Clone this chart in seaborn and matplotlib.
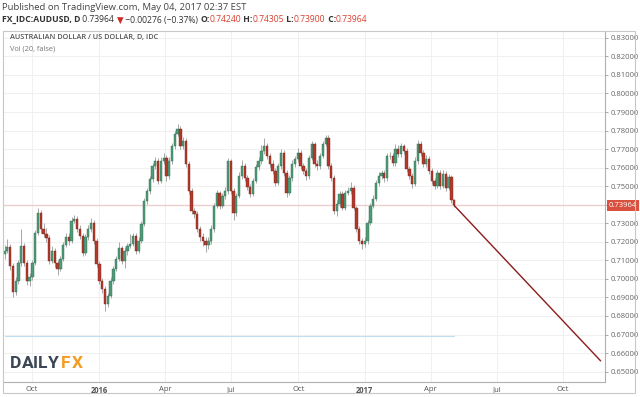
import numpy as np
import pandas as pd
import seaborn as sns
import matplotlib.pyplot as plt
from matplotlib.patches import Rectangle

start_date = "2015-08-25"
last_date = "2017-05-04"
first_open = 0.7135

closes = [
    0.7152, 0.7173, 0.7071, 0.6931, 0.6990, 0.7087, 0.7179, 0.7087, 0.6990, 0.7012,
    0.7087, 0.7249, 0.7357, 0.7271, 0.7244, 0.7222, 0.7098, 0.7152, 0.7087, 0.7055,
    0.7109, 0.7184, 0.7227, 0.7206, 0.7314, 0.7324, 0.7271, 0.7233, 0.7141, 0.7227,
    0.7271, 0.7303, 0.7206, 0.7082, 0.6990, 0.6947, 0.6866, 0.6909, 0.6990, 0.7055,
    0.7109, 0.7168, 0.7098, 0.7152, 0.7179, 0.7190, 0.7233, 0.7152, 0.7206, 0.7297,
    0.7421, 0.7475, 0.7540, 0.7610, 0.7637, 0.7529, 0.7637, 0.7653, 0.7556, 0.7637,
    0.7718, 0.7783, 0.7810, 0.7718, 0.7745, 0.7621, 0.7475, 0.7367, 0.7351, 0.7271,
    0.7227, 0.7206, 0.7184, 0.7206, 0.7271, 0.7394, 0.7465, 0.7394, 0.7448, 0.7475,
    0.7637, 0.7475, 0.7357, 0.7448, 0.7556, 0.7610, 0.7545, 0.7497, 0.7459, 0.7529,
    0.7605, 0.7637, 0.7691, 0.7718, 0.7664, 0.7621, 0.7583, 0.7518, 0.7610, 0.7680,
    0.7572, 0.7465, 0.7545, 0.7621, 0.7648, 0.7680, 0.7610, 0.7583, 0.7556, 0.7653,
    0.7729, 0.7621, 0.7610, 0.7664, 0.7729, 0.7761, 0.7610, 0.7545, 0.7367, 0.7405,
    0.7459, 0.7384, 0.7465, 0.7475, 0.7491, 0.7384, 0.7271, 0.7206, 0.7190, 0.7206,
    0.7303, 0.7394, 0.7432, 0.7518, 0.7556, 0.7572, 0.7545, 0.7664, 0.7664, 0.7626,
    0.7702, 0.7675, 0.7718, 0.7691, 0.7594, 0.7556, 0.7513, 0.7637, 0.7729, 0.7680,
    0.7621, 0.7648, 0.7583, 0.7529, 0.7502, 0.7572, 0.7502, 0.7567, 0.7491, 0.7550,
    0.7424, 0.73964,
]
highs = [
    0.7185, 0.7215, 0.7190, 0.7085, 0.7010, 0.7100, 0.7270, 0.7195, 0.7100, 0.7030,
    0.7100, 0.7265, 0.7385, 0.7370, 0.7300, 0.7275, 0.7235, 0.7175, 0.7165, 0.7100,
    0.7125, 0.7200, 0.7245, 0.7250, 0.7335, 0.7345, 0.7340, 0.7290, 0.7245, 0.7240,
    0.7290, 0.7330, 0.7315, 0.7220, 0.7095, 0.7005, 0.6960, 0.6925, 0.7010, 0.7070,
    0.7125, 0.7200, 0.7180, 0.7170, 0.7195, 0.7240, 0.7250, 0.7245, 0.7225, 0.7310,
    0.7435, 0.7490, 0.7555, 0.7625, 0.7660, 0.7650, 0.7655, 0.7680, 0.7670, 0.7655,
    0.7735, 0.7800, 0.7835, 0.7825, 0.7765, 0.7760, 0.7635, 0.7490, 0.7385, 0.7365,
    0.7285, 0.7245, 0.7225, 0.7225, 0.7290, 0.7410, 0.7480, 0.7475, 0.7465, 0.7495,
    0.7650, 0.7645, 0.7490, 0.7465, 0.7575, 0.7640, 0.7625, 0.7560, 0.7510, 0.7545,
    0.7620, 0.7655, 0.7720, 0.7758, 0.7735, 0.7680, 0.7640, 0.7600, 0.7625, 0.7700,
    0.7695, 0.7585, 0.7560, 0.7640, 0.7665, 0.7705, 0.7695, 0.7625, 0.7600, 0.7670,
    0.7745, 0.7740, 0.7640, 0.7680, 0.7745, 0.7778, 0.7775, 0.7625, 0.7560, 0.7425,
    0.7475, 0.7475, 0.7480, 0.7495, 0.7520, 0.7505, 0.7395, 0.7285, 0.7220, 0.7225,
    0.7320, 0.7410, 0.7450, 0.7535, 0.7575, 0.7590, 0.7590, 0.7680, 0.7685, 0.7680,
    0.7725, 0.7720, 0.7735, 0.7730, 0.7705, 0.7610, 0.7570, 0.7655, 0.7750, 0.7745,
    0.7695, 0.7670, 0.7665, 0.7600, 0.7545, 0.7590, 0.7585, 0.7585, 0.7580, 0.7565,
    0.7560, 0.74305,
]
lows = [
    0.7110, 0.7140, 0.7050, 0.6905, 0.6915, 0.6975, 0.7070, 0.7070, 0.6965, 0.6960,
    0.6995, 0.7075, 0.7235, 0.7250, 0.7225, 0.7200, 0.7080, 0.7085, 0.7065, 0.7020,
    0.7040, 0.7095, 0.7170, 0.7185, 0.7195, 0.7300, 0.7255, 0.7215, 0.7125, 0.7130,
    0.7210, 0.7255, 0.7190, 0.7065, 0.6970, 0.6925, 0.6827, 0.6850, 0.6895, 0.6975,
    0.7040, 0.7095, 0.7080, 0.7060, 0.7130, 0.7165, 0.7175, 0.7135, 0.7140, 0.7195,
    0.7285, 0.7405, 0.7460, 0.7525, 0.7595, 0.7510, 0.7515, 0.7620, 0.7530, 0.7540,
    0.7620, 0.7700, 0.7770, 0.7700, 0.7700, 0.7605, 0.7460, 0.7350, 0.7330, 0.7255,
    0.7205, 0.7180, 0.7146, 0.7160, 0.7190, 0.7255, 0.7380, 0.7375, 0.7380, 0.7430,
    0.7460, 0.7460, 0.7320, 0.7340, 0.7435, 0.7540, 0.7530, 0.7480, 0.7440, 0.7445,
    0.7515, 0.7590, 0.7620, 0.7675, 0.7645, 0.7605, 0.7565, 0.7500, 0.7505, 0.7595,
    0.7555, 0.7440, 0.7450, 0.7530, 0.7605, 0.7630, 0.7595, 0.7565, 0.7535, 0.7540,
    0.7640, 0.7605, 0.7590, 0.7595, 0.7650, 0.7715, 0.7595, 0.7530, 0.7350, 0.7340,
    0.7390, 0.7370, 0.7370, 0.7450, 0.7460, 0.7370, 0.7255, 0.7190, 0.7160, 0.7170,
    0.7190, 0.7290, 0.7380, 0.7420, 0.7500, 0.7540, 0.7525, 0.7530, 0.7645, 0.7610,
    0.7610, 0.7660, 0.7660, 0.7675, 0.7575, 0.7540, 0.7490, 0.7500, 0.7620, 0.7665,
    0.7605, 0.7605, 0.7565, 0.7510, 0.7485, 0.7490, 0.7485, 0.7490, 0.7475, 0.7480,
    0.7410, 0.73900,
]
last_price = 0.73964
trend_end_date = "2017-11-22"
trend_end_price = 0.6558
vol_base = 0.6693

tick_dates = ["2015-10-01", "2016-01-01", "2016-04-01", "2016-07-01", "2016-10-01",
              "2017-01-01", "2017-04-01", "2017-07-01", "2017-10-01"]
tick_labels = ["Oct", "2016", "Apr", "Jul", "Oct", "2017", "Apr", "Jul", "Oct"]
price_ticks = [0.65, 0.66, 0.67, 0.68, 0.69, 0.70, 0.71, 0.72, 0.73, 0.74,
               0.75, 0.76, 0.77, 0.78, 0.79, 0.80, 0.81, 0.82, 0.83]


def bar_no(d):
    return int(np.busday_count(start_date, d))


last_bar = bar_no(last_date)
df = pd.DataFrame({
    "x": np.linspace(0, last_bar, len(closes)),
    "open": [first_open] + closes[:-1],
    "high": highs,
    "low": lows,
    "close": closes,
})
df["up"] = df["close"] >= df["open"]

sns.set_style("white")
plt.rcParams["font.family"] = ["Open Sans", "DejaVu Sans"]

W, H = 640, 397
fig = plt.figure(figsize=(6.4, 3.97), dpi=100)
ax = fig.add_axes([4 / W, (H - 382) / H, 601 / W, 351 / H])

UP, DOWN = "#4f9a78", "#b23a2c"
UP_E, DOWN_E = "#2f6e50", "#7a2318"

# grid
for t in tick_dates:
    ax.axvline(bar_no(t), color="#f0f0f0", lw=0.8, zorder=0)
for p in price_ticks:
    ax.axhline(p, color="#f0f0f0", lw=0.8, zorder=0)

# volume baseline and last price line
ax.plot([df["x"].iloc[0], last_bar], [vol_base, vol_base], color="#bfe0f2", lw=0.8, zorder=1)
ax.axhline(last_price, color="#ecd0d0", lw=1.0, zorder=1)

# candles
ax.vlines(df["x"], df["low"], df["high"], color="#999999", lw=0.6, zorder=2)
colors = np.where(df["up"], UP, DOWN)
edges = np.where(df["up"], UP_E, DOWN_E)
ax.bar(df["x"], df["close"] - df["open"], bottom=df["open"], width=2.3,
       color=colors, edgecolor=edges, linewidth=0.3, zorder=3)

# drawn trend line
trend = pd.DataFrame({"x": [last_bar, bar_no(trend_end_date)],
                      "y": [last_price, trend_end_price]})
sns.lineplot(data=trend, x="x", y="y", ax=ax, color="#8b1c1c", lw=1.0, zorder=4)

ax.set_xlim(-0.5, 590.3)
ax.set_ylim(0.6444, 0.8337)
ax.set_xlabel("")
ax.set_ylabel("")

ax.set_xticks([bar_no(t) for t in tick_dates])
ax.set_xticklabels(tick_labels, fontsize=5.5, color="#555555")
for lab in ax.get_xticklabels():
    if lab.get_text() in ("2016", "2017"):
        lab.set_fontweight("bold")
ax.yaxis.tick_right()
ax.set_yticks(price_ticks)
ax.set_yticklabels(["" if abs(p - 0.74) < 1e-9 else f"{p:.5f}" for p in price_ticks],
                   fontsize=5.5, color="#666666")
ax.tick_params(axis="y", length=2.5, width=0.6, color="#999999", pad=1.5)
ax.tick_params(axis="x", length=0, pad=3)
for s in ["top", "left"]:
    ax.spines[s].set_visible(False)
for s in ["right", "bottom"]:
    ax.spines[s].set_color("#b0b0b0")
    ax.spines[s].set_linewidth(0.8)

# last price label
ax.text(1.006, last_price, "0.73964", transform=ax.get_yaxis_transform(),
        fontsize=5.5, color="white", va="center", ha="left", zorder=10, clip_on=False,
        bbox=dict(boxstyle="square,pad=0.25", fc="#d9503f", ec="none"))

# outer frame
fig.patches.append(Rectangle((3 / W, (H - 393) / H), 632 / W, 362 / H,
                             transform=fig.transFigure, fill=False,
                             ec="#c8c8c8", lw=0.8))

# header
fig.text(2 / W, 1 - 8 / H, "Published on TradingView.com, May 04, 2017 02:37 EST",
         fontsize=6.8, color="#444444", va="center", ha="left")
pieces = [
    ("FX_IDC:AUDUSD, D", "#333333", "bold"),
    (" 0.73964 ", "#333333", "normal"),
    ("\u25bc", "#cc2a2a", "normal"),
    (" \u22120.00276 (\u22120.37%) ", "#333333", "normal"),
    ("O:", "#333333", "bold"),
    ("0.74240", "#d9402f", "normal"),
    (" H:", "#333333", "bold"),
    ("0.74305", "#d9402f", "normal"),
    (" L:", "#333333", "bold"),
    ("0.73900", "#d9402f", "normal"),
    (" C:", "#333333", "bold"),
    ("0.73964", "#d9402f", "normal"),
]
# chain the coloured pieces one after another
prev = fig.text(2 / W, 1 - 20 / H, pieces[0][0], fontsize=6.2, color=pieces[0][1],
                fontweight=pieces[0][2], va="center", ha="left")
for txt, col, wt in pieces[1:]:
    prev = ax.annotate(txt, xy=(1, 0), xycoords=prev, va="bottom", ha="left",
                       fontsize=6.2, color=col, fontweight=wt, annotation_clip=False)

# inside-chart legend text
fig.text(10 / W, 1 - 38 / H, "AUSTRALIAN DOLLAR / US DOLLAR, D, IDC",
         fontsize=5.3, color="#555555", fontweight="semibold", va="center", ha="left")
fig.text(10 / W, 1 - 49 / H, "Vol (20, false)",
         fontsize=5.3, color="#777777", va="center", ha="left")

# DAILYFX logo, letters spaced out like the original
logo_letters = ["D", "A", "I", "L", "Y", "F", "X"]
logo_colors = ["#3b4654"] * 5 + ["#f39c23"] * 2
logo_x = [10, 22, 33, 38, 48, 61, 72]
for ch, col, lx in zip(logo_letters, logo_colors, logo_x):
    fig.text(lx / W, 1 - 364 / H, ch, fontsize=12.5, color=col,
             fontweight="bold", va="center", ha="left", family=["Roboto", "DejaVu Sans"])

fig.savefig("out.png", dpi=100)
